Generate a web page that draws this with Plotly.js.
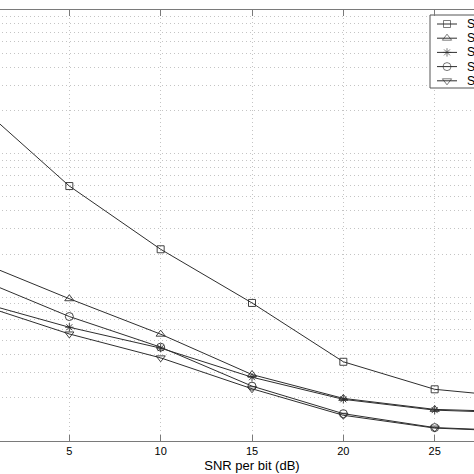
<!DOCTYPE html>
<html><head><meta charset="utf-8">
<script src="https://cdn.plot.ly/plotly-3.0.1.min.js"></script>
<style>
html,body{margin:0;padding:0;overflow:hidden;width:474px;height:474px;background:#fff}
#chart{position:absolute;left:-100px;top:0;width:640px;height:474px}
</style>
</head><body><div id="chart"></div>
<script>
const snrDb = [0, 5, 10, 15, 20, 25, 30];
const seriesNames = ["Scheme 1", "Scheme 2", "Scheme 3", "Scheme 4", "Scheme 5"];
const berSquare   = [2.20e-2, 5.95e-3, 2.16e-3, 9.14e-4, 3.56e-4, 2.29e-4, 1.99e-4];
const berTriangle = [1.78e-3, 9.78e-4, 5.54e-4, 2.90e-4, 1.98e-4, 1.66e-4, 1.59e-4];
const berStar     = [9.31e-4, 6.19e-4, 4.43e-4, 2.78e-4, 1.95e-4, 1.64e-4, 1.56e-4];
const berCircle   = [1.35e-3, 7.35e-4, 4.50e-4, 2.41e-4, 1.55e-4, 1.24e-4, 1.17e-4];
const berInvTri   = [8.98e-4, 5.56e-4, 3.79e-4, 2.31e-4, 1.51e-4, 1.23e-4, 1.16e-4];
const xTicks = [0, 5, 10, 15, 20, 25, 30];

const allSeries = [berSquare, berTriangle, berStar, berCircle, berInvTri];
const symbols = ["square-open", "triangle-up-open", "asterisk-open", "circle-open", "triangle-down-open"];
const sizes = [7, 8, 7, 8, 8];
const ink = "#2e2e2e";

const traces = allSeries.map((ys, i) => ({
  x: snrDb, y: ys, name: seriesNames[i], type: "scatter", mode: "lines+markers",
  showlegend: false,
  line: {color: ink, width: 1},
  marker: {symbol: symbols[i], size: sizes[i], color: ink, line: {color: ink, width: 0.9}}
}));

// hand-built legend (compact row spacing like the reference), on a pixel overlay axis
const legLeft = 430, legTop = 15, legBottom = 88, rowGap = 14.2, firstRow = 24;
traces.push({
  x: [legLeft, legLeft + 120, legLeft + 120, legLeft, legLeft],
  y: [legTop, legTop, legBottom, legBottom, legTop],
  xaxis: "x2", yaxis: "y2", mode: "lines", fill: "toself", fillcolor: "#ffffff",
  line: {color: "#555555", width: 1}, showlegend: false, hoverinfo: "skip"
});
seriesNames.forEach((nm, i) => {
  const cy = firstRow + i * rowGap;
  traces.push({
    x: [legLeft + 7, legLeft + 17, legLeft + 27], y: [cy, cy, cy],
    xaxis: "x2", yaxis: "y2", mode: "lines+markers", showlegend: false, hoverinfo: "skip",
    line: {color: ink, width: 1},
    marker: {symbol: symbols[i], size: [0, sizes[i], 0], color: ink, line: {color: ink, width: 0.9}}
  });
});
const annotations = seriesNames.map((nm, i) => ({
  xref: "x2", yref: "y2", x: legLeft + 35, y: firstRow + i * rowGap,
  xanchor: "left", yanchor: "middle", showarrow: false, text: nm,
  font: {size: 12, color: "#000"}
}));

const gridCol = "#c4c4c4";
const layout = {
  width: 640, height: 474,
  margin: {l: 78, r: 14, t: 10, b: 33},
  paper_bgcolor: "#ffffff", plot_bgcolor: "#ffffff",
  font: {family: "Liberation Sans, Arial, sans-serif", color: "#000"},
  showlegend: false,
  xaxis: {
    range: [0, 30], tickvals: xTicks, ticktext: xTicks.map(String),
    showline: true, linecolor: "#7a7a7a", linewidth: 1, mirror: "ticks",
    ticks: "inside", ticklen: 6, tickcolor: "#7a7a7a",
    showgrid: true, gridcolor: gridCol, griddash: "1px,3px", gridwidth: 1,
    zeroline: false,
    tickfont: {size: 11},
    title: {text: "SNR per bit (dB)", font: {size: 13}, standoff: 4}
  },
  yaxis: {
    type: "log", range: [-4, -1], dtick: 1,
    showline: true, linecolor: "#7a7a7a", linewidth: 1, mirror: "ticks",
    ticks: "inside", ticklen: 6, tickcolor: "#7a7a7a",
    showgrid: true, gridcolor: gridCol, griddash: "1px,3px", gridwidth: 1,
    exponentformat: "power", tickfont: {size: 11},
    minor: {dtick: "D1", showgrid: true, gridcolor: gridCol, griddash: "1px,3px", ticks: "inside", ticklen: 3, tickcolor: "#7a7a7a"}
  },
  xaxis2: {overlaying: "x", range: [-22, 526], visible: false, fixedrange: true},
  yaxis2: {overlaying: "y", range: [441, 10], visible: false, fixedrange: true},
  annotations: annotations
};
Plotly.newPlot("chart", traces, layout, {displayModeBar: false, responsive: false, staticPlot: true});
</script></body></html>
